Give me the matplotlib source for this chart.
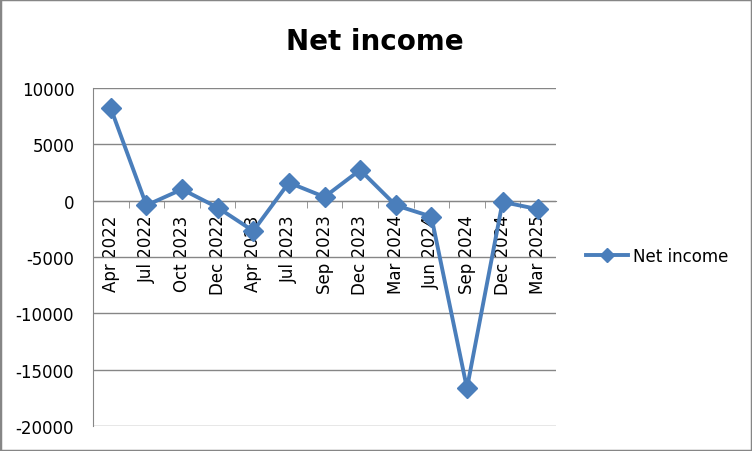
import matplotlib
matplotlib.use("Agg")
import matplotlib.pyplot as plt
from matplotlib.patches import Rectangle
import numpy as np

categories = ["Apr 2022", "Jul 2022", "Oct 2023", "Dec 2022", "Apr 2023", "Jul 2023",
              "Sep 2023", "Dec 2023", "Mar 2024", "Jun 2024", "Sep 2024", "Dec 2024", "Mar 2025"]
net_income = [8170, -420, 1000, -620, -2690, 1590, 320, 2710, -420, -1420, -16630, -120, -770]
yticks = [10000, 5000, 0, -5000, -10000, -15000, -20000]

plt.rcParams['font.family'] = ['DejaVu Sans']

fig = plt.figure(figsize=(7.52, 4.52), dpi=100)
ax = fig.add_axes([93/752, 1-427.3/452, (556-93)/752, (427.3-88.7)/452])

x = np.arange(len(categories))
blue = '#4A7EBB'
ax.plot(x, net_income, color=blue, lw=2.8, marker='D', markersize=10,
        markeredgecolor=blue, markerfacecolor=blue, label='Net income', zorder=3)

ax.set_xlim(-0.5, len(categories) - 0.5)
ax.set_ylim(-20000, 10000)
ax.set_yticks(yticks)
ax.set_yticklabels([str(v) for v in yticks], fontsize=12)
ax.yaxis.grid(True, color='#868686', lw=1)
ax.set_axisbelow(True)

for s in ['top', 'right']:
    ax.spines[s].set_visible(False)
ax.spines['left'].set_color('#868686')
ax.spines['bottom'].set_position(('data', 0))
ax.spines['bottom'].set_color('#868686')
ax.tick_params(axis='y', length=0, pad=13.5)

ax.set_xticks(x)
ax.set_xticklabels(categories, rotation=90, fontsize=12)
ax.tick_params(axis='x', which='major', length=0, pad=10)
ax.set_xticks(np.arange(0.5, len(categories) - 0.5, 1), minor=True)
ax.tick_params(axis='x', which='minor', length=5, color='#868686', direction='out')
for lbl in ax.get_xticklabels():
    lbl.set_va('top')

fig.text(375/752, 1-42/452, 'Net income', ha='center', va='center', fontsize=20, fontweight='bold')

leg = ax.legend(loc='center left', bbox_to_anchor=(586/752, 1-257/452), bbox_transform=fig.transFigure,
                frameon=False, fontsize=12, handlelength=2.5, handletextpad=0.3,
                borderpad=0, borderaxespad=0, markerscale=0.7)

fig.patches.append(Rectangle((0, 0), 1, 1, transform=fig.transFigure, fill=False,
                             edgecolor='#868686', lw=2.5))

fig.savefig('out.png', dpi=100)
